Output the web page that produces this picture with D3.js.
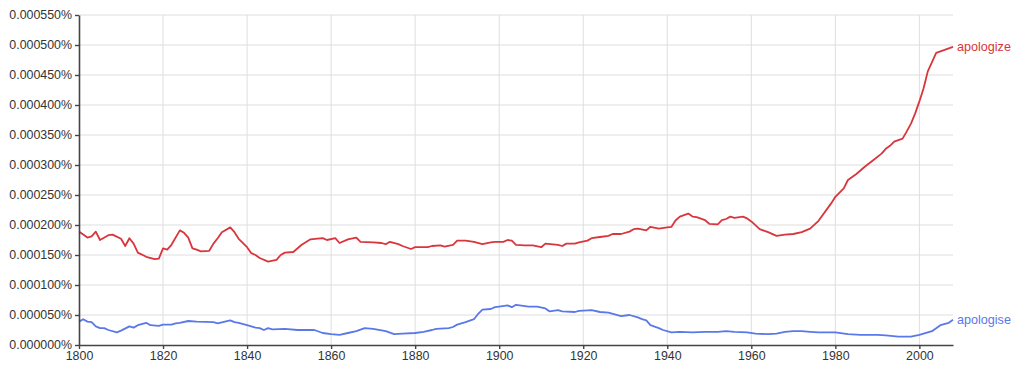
<!DOCTYPE html>
<html>
<head>
<meta charset="utf-8">
<script src="https://cdn.jsdelivr.net/npm/d3@7"></script>
<style>
  html, body { margin: 0; padding: 0; background: #fff; }
  svg { display: block; font-family: "Liberation Sans", Arial, sans-serif; }
</style>
</head>
<body>
<div id="chart"></div>
<script>
// Values are in millionths of a percent (189 -> 0.000189%).
const apologizeYears = [1800, 1802, 1803, 1804, 1805, 1807, 1808, 1810, 1811, 1812, 1813, 1814, 1816, 1818, 1819,
  1820, 1821, 1822, 1824, 1825, 1826, 1827, 1828, 1829, 1831, 1832, 1833, 1834, 1836, 1837, 1838,
  1840, 1841, 1842, 1843, 1845, 1847, 1848, 1849, 1851, 1853, 1855, 1858, 1859, 1861, 1862, 1864,
  1866, 1867, 1870, 1872, 1873, 1874, 1876, 1877, 1879, 1880, 1883, 1884, 1886, 1887, 1889, 1890,
  1892, 1894, 1896, 1898, 1899, 1901, 1902, 1903, 1904, 1906, 1908, 1910, 1911, 1914, 1915, 1916,
  1918, 1919, 1921, 1922, 1924, 1926, 1927, 1929, 1931, 1932, 1933, 1935, 1936, 1938, 1940, 1941,
  1942, 1943, 1945, 1946, 1947, 1949, 1950, 1952, 1953, 1954, 1955, 1956, 1958, 1959, 1960, 1962,
  1964, 1966, 1968, 1970, 1972, 1974, 1976, 1979, 1980, 1982, 1983, 1985, 1987, 1989, 1991, 1992,
  1993, 1994, 1996, 1997, 1998, 1999, 2000, 2001, 2002, 2004, 2006, 2008];
const apologizeValues = [189, 179, 181, 189, 175, 183, 184, 177, 165, 178, 169, 154, 147, 143, 144,
  161, 159, 167, 191, 187, 179, 161, 159, 156, 157, 169, 178, 188, 196, 188, 177,
  163, 153, 150, 145, 139, 142, 150, 154, 155, 167, 176, 178, 175, 178, 170, 176,
  179, 172, 171, 170, 168, 172, 168, 165, 160, 163, 163, 165, 166, 164, 167, 174,
  174, 172, 168, 171, 172, 172, 175, 174, 167, 166, 166, 163, 169, 167, 165, 169,
  169, 171, 174, 178, 180, 182, 185, 185, 189, 193, 194, 191, 197, 194, 196, 197,
  208, 214, 219, 214, 213, 208, 202, 201, 208, 210, 214, 212, 214, 211, 206, 193,
  188, 182, 184, 185, 188, 194, 207, 236, 247, 261, 275, 285, 297, 308, 319, 327,
  332, 339, 344, 356, 369, 386, 406, 428, 456, 487, 492, 497];

const apologiseYears = [1800, 1801, 1802, 1803, 1804, 1805, 1806, 1807, 1809, 1810, 1812, 1813, 1814, 1816, 1817,
  1819, 1820, 1822, 1823, 1824, 1826, 1828, 1832, 1833, 1836, 1837, 1838, 1840, 1842, 1843, 1844,
  1845, 1846, 1849, 1852, 1856, 1858, 1860, 1862, 1864, 1866, 1868, 1870, 1873, 1875, 1877, 1880,
  1882, 1884, 1885, 1888, 1889, 1890, 1892, 1894, 1895, 1896, 1898, 1899, 1900, 1902, 1903, 1904,
  1907, 1909, 1911, 1912, 1914, 1915, 1918, 1919, 1922, 1924, 1926, 1929, 1931, 1933, 1934, 1935,
  1936, 1938, 1939, 1941, 1943, 1946, 1949, 1952, 1954, 1956, 1959, 1961, 1964, 1966, 1968, 1970,
  1972, 1974, 1976, 1980, 1983, 1986, 1990, 1992, 1995, 1998, 2000, 2002, 2003, 2005, 2007, 2008];
const apologiseValues = [39, 43, 39, 38, 31, 28, 28, 25, 21, 24, 31, 29, 33, 37, 33,
  32, 34, 34, 36, 37, 40, 39, 38, 36, 41, 38, 37, 33, 29, 28, 25,
  28, 26, 27, 25, 25, 20, 18, 17, 20, 23, 28, 27, 23, 18, 19, 20,
  22, 25, 27, 28, 30, 34, 38, 43, 52, 59, 60, 63, 64, 66, 63, 67,
  64, 64, 61, 56, 58, 56, 55, 57, 58, 55, 54, 48, 50, 46, 43, 41,
  33, 28, 25, 21, 22, 21, 22, 22, 23, 22, 21, 19, 18, 19, 22, 23,
  23, 22, 21, 21, 18, 17, 17, 16, 14, 14, 17, 21, 23, 33, 37, 42];

const yTicks = [0, 50, 100, 150, 200, 250, 300, 350, 400, 450, 500, 550];
const xTicks = [1800, 1820, 1840, 1860, 1880, 1900, 1920, 1940, 1960, 1980, 2000];

const series = [
  { name: "apologize", years: apologizeYears, values: apologizeValues, color: "#d8363c" },
  { name: "apologise", years: apologiseYears, values: apologiseValues, color: "#5a78e8" },
];

const width = 1024;
const height = 371;
const margin = { top: 15, right: 71, bottom: 26, left: 79 };

const svg = d3.select("#chart").append("svg")
  .attr("width", width)
  .attr("height", height);

const x = d3.scaleLinear().domain([1800, 2008]).range([margin.left, width - margin.right]);
const y = d3.scaleLinear().domain([0, 550]).range([height - margin.bottom, margin.top]);

// Grid.
svg.append("g").selectAll("line.h").data(yTicks.slice(1)).join("line")
  .attr("x1", margin.left).attr("x2", width - margin.right)
  .attr("y1", d => y(d)).attr("y2", d => y(d))
  .attr("stroke", "#dedede").attr("stroke-width", 1);

svg.append("g").selectAll("line.v").data(xTicks.slice(1)).join("line")
  .attr("x1", d => x(d)).attr("x2", d => x(d))
  .attr("y1", margin.top).attr("y2", height - margin.bottom)
  .attr("stroke", "#dedede").attr("stroke-width", 1);

// Lines.
const line = d3.line().x(d => x(d[0])).y(d => y(d[1]));
for (const s of series) {
  const pts = s.years.map((yr, i) => [yr, s.values[i]]);
  svg.append("path")
    .datum(pts)
    .attr("fill", "none")
    .attr("stroke", s.color)
    .attr("stroke-width", 1.8)
    .attr("stroke-linejoin", "round")
    .attr("d", line);
  const last = pts[pts.length - 1];
  svg.append("text")
    .attr("x", x(last[0]) + 4)
    .attr("y", y(last[1]))
    .attr("dy", "0.35em")
    .attr("fill", s.color)
    .attr("font-size", "12.6px")
    .text(s.name);
}

// Axes.
const fmt = d => (d / 1e6).toFixed(6) + "%";
const yAxis = svg.append("g")
  .attr("transform", `translate(${margin.left},0)`)
  .call(d3.axisLeft(y).tickValues(yTicks).tickFormat(fmt).tickSize(4).tickSizeOuter(0).tickPadding(3));

const xAxis = svg.append("g")
  .attr("transform", `translate(0,${height - margin.bottom})`)
  .call(d3.axisBottom(x).tickValues(xTicks).tickFormat(d3.format("d")).tickSize(4).tickSizeOuter(0).tickPadding(2));

for (const ax of [yAxis, xAxis]) {
  ax.select(".domain").attr("stroke", "#444").attr("stroke-width", 1.6);
  ax.selectAll(".tick line").attr("stroke", "#444").attr("stroke-width", 1.4);
  ax.selectAll("text").attr("fill", "#333").attr("font-size", "12.4px")
    .attr("font-family", "'Liberation Sans', Arial, sans-serif");
}
</script>
</body>
</html>
